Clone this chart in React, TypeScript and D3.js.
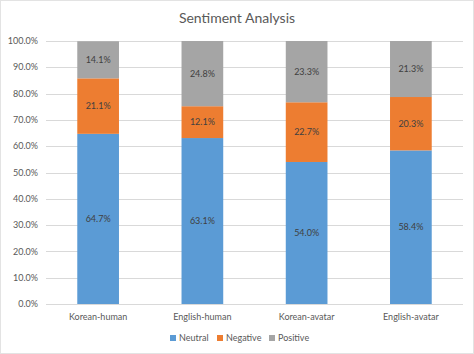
import { useEffect, useRef } from 'react';
import * as d3 from 'd3';

const categories = ['Korean-human', 'English-human', 'Korean-avatar', 'English-avatar'];
const seriesNames = ['Neutral', 'Negative', 'Positive'];
const neutral = [64.7, 63.1, 54.0, 58.4];
const negative = [21.1, 12.1, 22.7, 20.3];
const positive = [14.1, 24.8, 23.3, 21.3];
const yTicks = [0, 10, 20, 30, 40, 50, 60, 70, 80, 90, 100];

const colors = ['#5B9BD5', '#ED7D31', '#A5A5A5'];
const FONT = "Lato, 'Open Sans', sans-serif";

export default function App() {
  const svgRef = useRef<SVGSVGElement>(null);
  const width = 474;
  const height = 354;

  useEffect(() => {
    if (!svgRef.current) return;
    const svg = d3.select(svgRef.current);
    svg.selectAll('*').remove();

    const margin = { top: 41, right: 11, bottom: 50, left: 46 };
    const chartWidth = width - margin.left - margin.right;
    const chartHeight = height - margin.top - margin.bottom;

    svg
      .append('rect')
      .attr('x', 0.5)
      .attr('y', 0.5)
      .attr('width', width - 1)
      .attr('height', height - 1)
      .attr('fill', '#fff')
      .attr('stroke', '#e3e3e3');

    svg
      .append('text')
      .attr('x', width / 2)
      .attr('y', 23)
      .attr('text-anchor', 'middle')
      .attr('fill', '#595959')
      .attr('font-size', 14)
      .attr('font-family', FONT)
      .text('Sentiment Analysis');

    const chart = svg
      .append('g')
      .attr('transform', `translate(${margin.left},${margin.top})`);

    const x = d3
      .scaleBand<string>()
      .domain(categories)
      .range([0, chartWidth])
      .paddingInner(0.6)
      .paddingOuter(0.3);

    const y = d3.scaleLinear().domain([0, 100]).range([chartHeight, 0]);

    chart
      .append('g')
      .selectAll('line')
      .data(yTicks)
      .join('line')
      .attr('x1', 0)
      .attr('x2', chartWidth)
      .attr('y1', (d) => Math.round(y(d)) + 0.5)
      .attr('y2', (d) => Math.round(y(d)) + 0.5)
      .attr('stroke', '#d9d9d9')
      .attr('stroke-width', 1);

    chart
      .append('g')
      .selectAll('text')
      .data(yTicks)
      .join('text')
      .attr('x', -8)
      .attr('y', (d) => y(d))
      .attr('dy', '0.35em')
      .attr('text-anchor', 'end')
      .attr('fill', '#595959')
      .attr('font-size', 9)
      .attr('font-family', FONT)
      .text((d) => `${d.toFixed(1)}%`);

    const rows = categories.map((name, i) => ({
      name,
      Neutral: neutral[i],
      Negative: negative[i],
      Positive: positive[i],
    }));

    const stacked = d3.stack<(typeof rows)[number]>().keys(seriesNames)(rows);

    stacked.forEach((layer, si) => {
      const g = chart.append('g');
      g.selectAll('rect')
        .data(layer)
        .join('rect')
        .attr('x', (d) => x(d.data.name) ?? 0)
        .attr('width', x.bandwidth())
        .attr('y', (d) => y(d[1]))
        .attr('height', (d) => y(d[0]) - y(d[1]))
        .attr('fill', colors[si]);

      g.selectAll('text')
        .data(layer)
        .join('text')
        .attr('x', (d) => (x(d.data.name) ?? 0) + x.bandwidth() / 2)
        .attr('y', (d) => (y(d[0]) + y(d[1])) / 2)
        .attr('dy', '0.35em')
        .attr('text-anchor', 'middle')
        .attr('fill', '#404040')
        .attr('font-size', 9)
        .attr('font-family', FONT)
        .text((d) => `${(d[1] - d[0]).toFixed(1)}%`);
    });

    chart
      .append('g')
      .selectAll('text')
      .data(categories)
      .join('text')
      .attr('x', (d) => (x(d) ?? 0) + x.bandwidth() / 2)
      .attr('y', chartHeight + 16)
      .attr('text-anchor', 'middle')
      .attr('fill', '#595959')
      .attr('font-size', 9)
      .attr('font-family', FONT)
      .text((d) => d);

    const legendX = [170, 217, 269];
    const legend = svg
      .append('g')
      .selectAll('g')
      .data(seriesNames)
      .join('g')
      .attr('transform', (_, i) => `translate(${legendX[i]},${height - 16})`);

    legend
      .append('rect')
      .attr('x', 0)
      .attr('y', -3)
      .attr('width', 6)
      .attr('height', 6)
      .attr('fill', (_, i) => colors[i]);

    legend
      .append('text')
      .attr('x', 9)
      .attr('y', 0)
      .attr('dy', '0.35em')
      .attr('fill', '#595959')
      .attr('font-size', 9)
      .attr('font-family', FONT)
      .text((d) => d);
  }, []);

  return (
    <div style={{ position: 'fixed', left: 0, top: 0 }}>
      <svg ref={svgRef} width={width} height={height} style={{ display: 'block' }} />
    </div>
  );
}
